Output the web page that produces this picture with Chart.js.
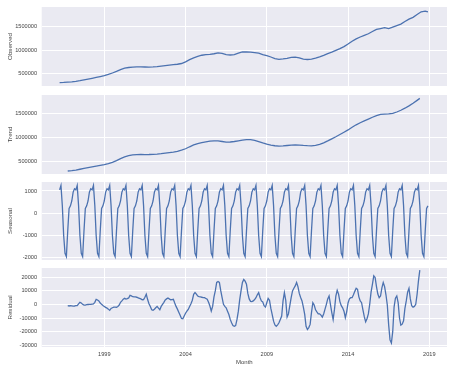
<!DOCTYPE html>
<html><head><meta charset="utf-8">
<script src="https://cdn.jsdelivr.net/npm/chart.js@4.4.0/dist/chart.umd.min.js"></script>
<style>
html,body{margin:0;padding:0;background:#fff;}
#wrap{position:relative;width:454px;height:368px;overflow:hidden;background:#fff;}
canvas{position:absolute;left:0;}
</style></head><body>
<div id="wrap">
<canvas id="c0"></canvas><canvas id="c1"></canvas><canvas id="c2"></canvas><canvas id="c3"></canvas>
</div>
<script>
// ---------- DATA ----------
const xTickYears = [1999, 2004, 2009, 2014, 2019];
const observedTicks = [500000, 1000000, 1500000];
const trendTicks = [500000, 1000000, 1500000];
const seasonalTicks = [-2000, -1000, 0, 1000];
const residualTicks = [-30000, -20000, -10000, 0, 10000, 20000];
const panelTitles = ["Observed", "Trend", "Seasonal", "Residual"];
const xTitle = "Month";

// Observed: read quarterly from 1996-04 to 2018-10, plus last month 2018-12
const observedStart = "1996-04";
const observedValues = [
  300000, 304000, 310000,
  316000, 328000, 342000, 360000,
  376000, 394000, 412000, 430000,
  450000, 476000, 508000, 542000,
  582000, 612000, 626000, 634000,
  638000, 638000, 637000, 636000,
  638000, 645000, 655000, 666000,
  678000, 688000, 696000, 712000,
  748000, 795000, 835000, 866000,
  890000, 903000, 908000, 922000,
  940000, 930000, 905000, 895000,
  905000, 935000, 960000, 962000,
  955000, 948000, 935000, 905000,
  880000, 852000, 815000, 802000,
  810000, 822000, 842000, 848000,
  832000, 805000, 798000, 808000,
  830000, 855000, 888000, 925000,
  955000, 995000, 1032000, 1075000,
  1130000, 1192000, 1242000, 1282000,
  1318000, 1352000, 1400000, 1448000,
  1465000, 1482000, 1462000, 1495000,
  1528000, 1560000, 1615000, 1668000,
  1705000, 1765000, 1825000, 1838000
];
const observedLast = ["2018-12", 1822000];

// Trend: read quarterly from 1996-10 to 2018-04, plus last month 2018-06
const trendStart = "1996-10";
const trendValues = [
  314000,
  322000, 334000, 350000, 367000,
  383000, 399000, 416000, 431000,
  446000, 464000, 490000, 526000,
  568000, 605000, 630000, 644000,
  651000, 652000, 651000, 652000,
  655000, 659000, 669000, 681000,
  692000, 702000, 716000, 740000,
  770000, 810000, 847000, 876000,
  897000, 912000, 924000, 930000,
  930000, 918000, 905000, 908000,
  918000, 933000, 946000, 956000,
  955000, 941000, 918000, 890000,
  866000, 846000, 831000, 823000,
  827000, 836000, 845000, 849000,
  845000, 837000, 832000, 829000,
  840000, 860000, 891000, 930000,
  973000, 1015000, 1062000, 1108000,
  1155000, 1210000, 1260000, 1302000,
  1340000, 1377000, 1415000, 1448000,
  1472000, 1477000, 1482000, 1495000,
  1522000, 1558000, 1600000, 1647000,
  1700000, 1760000
];
const trendLast = ["2018-06", 1801000];

// Seasonal: monthly from 1996-04 to 2018-12
const seasonalStart = "1996-04";
const seasonalValues = [
  1050,1250,350,-1000,-1800,-1950,-800,220,330,550,950,1100,
  1050,1250,350,-1000,-1800,-1950,-800,220,330,550,950,1100,
  1050,1250,350,-1000,-1800,-1950,-800,220,330,550,950,1100,
  1050,1250,350,-1000,-1800,-1950,-800,220,330,550,950,1100,
  1050,1250,350,-1000,-1800,-1950,-800,220,330,550,950,1100,
  1050,1250,350,-1000,-1800,-1950,-800,220,330,550,950,1100,
  1050,1250,350,-1000,-1800,-1950,-800,220,330,550,950,1100,
  1050,1250,350,-1000,-1800,-1950,-800,220,330,550,950,1100,
  1050,1250,350,-1000,-1800,-1950,-800,220,330,550,950,1100,
  1050,1250,350,-1000,-1800,-1950,-800,220,330,550,950,1100,
  1050,1250,350,-1000,-1800,-1950,-800,220,330,550,950,1100,
  1050,1250,350,-1000,-1800,-1950,-800,220,330,550,950,1100,
  1050,1250,350,-1000,-1800,-1950,-800,220,330,550,950,1100,
  1050,1250,350,-1000,-1800,-1950,-800,220,330,550,950,1100,
  1050,1250,350,-1000,-1800,-1950,-800,220,330,550,950,1100,
  1050,1250,350,-1000,-1800,-1950,-800,220,330,550,950,1100,
  1050,1250,350,-1000,-1800,-1950,-800,220,330,550,950,1100,
  1050,1250,350,-1000,-1800,-1950,-800,220,330,550,950,1100,
  1050,1250,350,-1000,-1800,-1950,-800,220,330,550,950,1100,
  1050,1250,350,-1000,-1800,-1950,-800,220,330,550,950,1100,
  1050,1250,350,-1000,-1800,-1950,-800,220,330,550,950,1100,
  1050,1250,350,-1000,-1800,-1950,-800,220,330,550,950,1100,
  1050,1250,350,-1000,-1800,-1950,-800,220,330
];

// Residual: monthly from 1996-10 to 2018-06
const residualStart = "1996-10";
const residualValues = [
  -1000,-1200,-1000,-1100,-1300,-1200,-1000,-900,300,1500,1000,0,
  -600,-500,-200,-100,0,0,200,300,1500,3700,3200,2500,
  1000,0,-800,-1500,-2200,-2700,-3500,-4400,-3000,-2500,-2000,-2100,
  -2200,-1500,-500,1500,2500,3800,4400,3900,4200,4700,6600,6200,
  5600,5500,5400,5200,4800,4400,4000,3400,3500,5200,7400,3500,
  500,-1500,-4000,-4400,-3600,-2500,-1500,-2800,-3900,-1500,0,1500,
  3200,4000,4700,4000,3400,3500,3700,1000,-1500,-3500,-5700,-8000,
  -10300,-10500,-8500,-6500,-5000,-3700,-1500,500,3000,7400,8600,7500,
  6100,5600,5400,5200,5000,4900,4300,3700,1500,-1200,-4900,-1500,
  5500,10000,16000,16700,16000,10000,5000,0,-1500,-2500,-5000,-7400,
  -11000,-13500,-15500,-16000,-15500,-11000,-5000,3500,10000,16000,18200,17000,
  14700,8000,4000,2200,2000,2500,3500,4900,7000,8600,5000,2500,
  1800,-1000,-2000,1200,4400,3000,-3000,-7500,-12300,-15000,-16000,-15000,
  -13500,-11000,-8600,2500,8600,3000,-9300,-7000,-1000,5000,9800,11800,
  13500,16000,13000,8000,5000,2500,-2000,-7400,-16000,-18400,-17000,-14700,
  -6000,1200,-500,-4000,-5500,-6900,-6900,-7900,-9300,-7000,-3500,0,
  4000,6100,0,-6000,-11000,-3500,6000,10300,7500,2000,-1000,-2500,
  -5000,-9800,-5500,1000,4000,4900,4900,7000,9500,11800,11000,5500,
  2500,1200,-4000,-9000,-12800,-10500,-7000,0,9000,14700,20900,19700,
  13000,7500,4900,6100,12000,16000,13000,7000,-500,-15000,-26000,-28300,
  -20000,-2000,4500,6100,1200,-10000,-15200,-14500,-12000,-3000,2500,9000,
  11800,4000,-1000,-2000,-1500,0,7400,17200,25000
];

// ---------- helpers ----------
function monthSeq(start, count, step) {
  const [y, m] = start.split('-').map(Number);
  const out = [];
  for (let i = 0; i < count; i++) {
    const t = (m - 1) + i * step;
    out.push((y + Math.floor(t / 12)) + '-' + String(t % 12 + 1).padStart(2, '0'));
  }
  return out;
}
const toYear = s => { const [y, m] = s.split('-').map(Number); return y + (m - 1) / 12; };
function pts(labels, values) { return labels.map((l, i) => ({x: toYear(l), y: values[i]})); }

const observedMonths = monthSeq(observedStart, observedValues.length, 3).concat([observedLast[0]]);
const trendMonths = monthSeq(trendStart, trendValues.length, 3).concat([trendLast[0]]);
const seasonalMonths = monthSeq(seasonalStart, seasonalValues.length, 1);
const residualMonths = monthSeq(residualStart, residualValues.length, 1);

const series = [
  pts(observedMonths, observedValues.concat([observedLast[1]])),
  pts(trendMonths, trendValues.concat([trendLast[1]])),
  pts(seasonalMonths, seasonalValues),
  pts(residualMonths, residualValues)
];
const yTicks = [observedTicks, trendTicks, seasonalTicks, residualTicks];

// ---------- layout (pixels) ----------
const panels = [
  {top: 7.3, bottom: 86.7, min: 228000, max: 1928000},
  {top: 94.7, bottom: 173.3, min: 253000, max: 1870000},
  {top: 181.7, bottom: 260, min: -2103, max: 1403},
  {top: 268.3, bottom: 347.3, min: -31200, max: 26600}
];
const PAD = 10, AXIS_W = 41.7, RIGHT_PAD = 7, W = 454, H = 368;
const xMin = 1995.148, xMax = 2020.09;
const FONT = "'Liberation Sans', Arial, sans-serif";

const bgPlugin = {
  id: 'bg',
  beforeDraw(chart) {
    const a = chart.chartArea, c = chart.ctx;
    c.save(); c.fillStyle = '#EAEAF2';
    c.fillRect(a.left, a.top, a.right - a.left, a.bottom - a.top);
    c.restore();
  }
};

panels.forEach((p, i) => {
  const last = i === panels.length - 1;
  const cTop = p.top - PAD;
  const cH = last ? (H - cTop) : (p.bottom - p.top + 2 * PAD);
  const cv = document.getElementById('c' + i);
  cv.style.top = cTop + 'px';
  cv.width = W; cv.height = Math.round(cH);
  cv.style.width = W + 'px'; cv.style.height = Math.round(cH) + 'px';
  const bottomSpace = last ? (Math.round(cH) - (p.bottom - cTop)) : PAD;
  new Chart(cv, {
    type: 'line',
    data: {datasets: [{
      data: series[i], borderColor: '#4C72B0', borderWidth: 1.3,
      pointRadius: 0, tension: 0, fill: false
    }]},
    options: {
      responsive: false, animation: false, devicePixelRatio: 1,
      parsing: false,
      layout: {padding: {top: PAD, bottom: last ? 0 : PAD, left: 0, right: RIGHT_PAD}},
      plugins: {legend: {display: false}, tooltip: {enabled: false}},
      scales: {
        x: {
          type: 'linear', min: xMin, max: xMax,
          afterBuildTicks: s => { s.ticks = xTickYears.map(v => ({value: v})); },
          afterFit: s => { s.height = last ? bottomSpace : 0; },
          grid: {color: '#ffffff', lineWidth: 1, drawTicks: false},
          border: {display: false},
          ticks: {display: last, padding: 4, color: '#444', font: {family: FONT, size: 5.6},
                  callback: v => String(v), maxRotation: 0, autoSkip: false},
          title: {display: last, text: xTitle, color: '#444', font: {family: FONT, size: 6},
                  padding: {top: 0, bottom: 1.6}}
        },
        y: {
          min: p.min, max: p.max,
          afterBuildTicks: s => { s.ticks = yTicks[i].map(v => ({value: v})); },
          afterFit: s => { s.width = AXIS_W; },
          grid: {color: '#ffffff', lineWidth: 1, drawTicks: false},
          border: {display: false},
          ticks: {padding: 4.7, color: '#444', font: {family: FONT, size: 5.6},
                  callback: v => String(v), autoSkip: false},
          title: {display: true, text: panelTitles[i], color: '#444', font: {family: FONT, size: 6.2},
                  padding: {top: 6.2, bottom: 0}}
        }
      }
    },
    plugins: [bgPlugin]
  });
});
</script>
</body></html>
